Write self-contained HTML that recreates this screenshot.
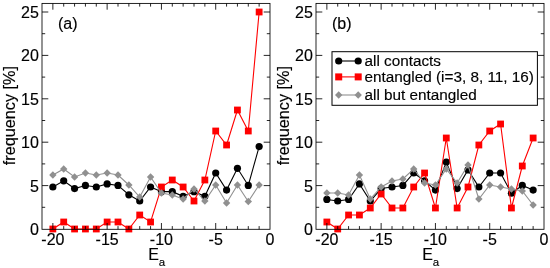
<!DOCTYPE html>
<html><head><meta charset="utf-8"><style>html,body{margin:0;padding:0;background:#fff;}svg{display:block;}</style></head>
<body>
<svg width="550" height="268" viewBox="0 0 550 268" font-family="Liberation Sans, Arial, sans-serif" font-size="16"><style>text{stroke:#000;stroke-width:0.15px}</style>
<rect width="550" height="268" fill="#fff"/>
<polyline fill="none" stroke="#000" stroke-width="1.1" points="52.86,187 63.71,180.78 74.57,188.56 85.43,185.44 96.29,187 107.14,183.89 118,185.44 128.86,194.78 139.71,201 150.57,187 161.43,191.67 172.29,191.67 183.14,196.33 194,191.67 204.86,196.33 215.71,173 226.57,190.11 237.43,168.33 248.29,185.44 259.14,146.56"/>
<circle cx="52.86" cy="187" r="3.6" fill="#000"/>
<circle cx="63.71" cy="180.78" r="3.6" fill="#000"/>
<circle cx="74.57" cy="188.56" r="3.6" fill="#000"/>
<circle cx="85.43" cy="185.44" r="3.6" fill="#000"/>
<circle cx="96.29" cy="187" r="3.6" fill="#000"/>
<circle cx="107.14" cy="183.89" r="3.6" fill="#000"/>
<circle cx="118" cy="185.44" r="3.6" fill="#000"/>
<circle cx="128.86" cy="194.78" r="3.6" fill="#000"/>
<circle cx="139.71" cy="201" r="3.6" fill="#000"/>
<circle cx="150.57" cy="187" r="3.6" fill="#000"/>
<circle cx="161.43" cy="191.67" r="3.6" fill="#000"/>
<circle cx="172.29" cy="191.67" r="3.6" fill="#000"/>
<circle cx="183.14" cy="196.33" r="3.6" fill="#000"/>
<circle cx="194" cy="191.67" r="3.6" fill="#000"/>
<circle cx="204.86" cy="196.33" r="3.6" fill="#000"/>
<circle cx="215.71" cy="173" r="3.6" fill="#000"/>
<circle cx="226.57" cy="190.11" r="3.6" fill="#000"/>
<circle cx="237.43" cy="168.33" r="3.6" fill="#000"/>
<circle cx="248.29" cy="185.44" r="3.6" fill="#000"/>
<circle cx="259.14" cy="146.56" r="3.6" fill="#000"/>
<polyline fill="none" stroke="#f00" stroke-width="1.1" points="52.86,229 63.71,222 74.57,229 85.43,229 96.29,229 107.14,222 118,222 128.86,229 139.71,215 150.57,222 161.43,187 172.29,180 183.14,187 194,201 204.86,180 215.71,131 226.57,145 237.43,110 248.29,131 259.14,12"/>
<rect x="49.46" y="225.6" width="6.8" height="6.8" fill="#f00"/>
<rect x="60.31" y="218.6" width="6.8" height="6.8" fill="#f00"/>
<rect x="71.17" y="225.6" width="6.8" height="6.8" fill="#f00"/>
<rect x="82.03" y="225.6" width="6.8" height="6.8" fill="#f00"/>
<rect x="92.89" y="225.6" width="6.8" height="6.8" fill="#f00"/>
<rect x="103.74" y="218.6" width="6.8" height="6.8" fill="#f00"/>
<rect x="114.6" y="218.6" width="6.8" height="6.8" fill="#f00"/>
<rect x="125.46" y="225.6" width="6.8" height="6.8" fill="#f00"/>
<rect x="136.31" y="211.6" width="6.8" height="6.8" fill="#f00"/>
<rect x="147.17" y="218.6" width="6.8" height="6.8" fill="#f00"/>
<rect x="158.03" y="183.6" width="6.8" height="6.8" fill="#f00"/>
<rect x="168.89" y="176.6" width="6.8" height="6.8" fill="#f00"/>
<rect x="179.74" y="183.6" width="6.8" height="6.8" fill="#f00"/>
<rect x="190.6" y="197.6" width="6.8" height="6.8" fill="#f00"/>
<rect x="201.46" y="176.6" width="6.8" height="6.8" fill="#f00"/>
<rect x="212.31" y="127.6" width="6.8" height="6.8" fill="#f00"/>
<rect x="223.17" y="141.6" width="6.8" height="6.8" fill="#f00"/>
<rect x="234.03" y="106.6" width="6.8" height="6.8" fill="#f00"/>
<rect x="244.89" y="127.6" width="6.8" height="6.8" fill="#f00"/>
<rect x="255.74" y="8.6" width="6.8" height="6.8" fill="#f00"/>
<polyline fill="none" stroke="#909090" stroke-width="1.1" points="52.86,175 63.71,169 74.57,177 85.43,173 96.29,175 107.14,173 118,175 128.86,185 139.71,197 150.57,177 161.43,193 172.29,195 183.14,199 194,189 204.86,201 215.71,185 226.57,203 237.43,185 248.29,201.5 259.14,185"/>
<path d="M52.86 171.3l3.7 3.7l-3.7 3.7l-3.7 -3.7z" fill="#909090"/>
<path d="M63.71 165.3l3.7 3.7l-3.7 3.7l-3.7 -3.7z" fill="#909090"/>
<path d="M74.57 173.3l3.7 3.7l-3.7 3.7l-3.7 -3.7z" fill="#909090"/>
<path d="M85.43 169.3l3.7 3.7l-3.7 3.7l-3.7 -3.7z" fill="#909090"/>
<path d="M96.29 171.3l3.7 3.7l-3.7 3.7l-3.7 -3.7z" fill="#909090"/>
<path d="M107.14 169.3l3.7 3.7l-3.7 3.7l-3.7 -3.7z" fill="#909090"/>
<path d="M118 171.3l3.7 3.7l-3.7 3.7l-3.7 -3.7z" fill="#909090"/>
<path d="M128.86 181.3l3.7 3.7l-3.7 3.7l-3.7 -3.7z" fill="#909090"/>
<path d="M139.71 193.3l3.7 3.7l-3.7 3.7l-3.7 -3.7z" fill="#909090"/>
<path d="M150.57 173.3l3.7 3.7l-3.7 3.7l-3.7 -3.7z" fill="#909090"/>
<path d="M161.43 189.3l3.7 3.7l-3.7 3.7l-3.7 -3.7z" fill="#909090"/>
<path d="M172.29 191.3l3.7 3.7l-3.7 3.7l-3.7 -3.7z" fill="#909090"/>
<path d="M183.14 195.3l3.7 3.7l-3.7 3.7l-3.7 -3.7z" fill="#909090"/>
<path d="M194 185.3l3.7 3.7l-3.7 3.7l-3.7 -3.7z" fill="#909090"/>
<path d="M204.86 197.3l3.7 3.7l-3.7 3.7l-3.7 -3.7z" fill="#909090"/>
<path d="M215.71 181.3l3.7 3.7l-3.7 3.7l-3.7 -3.7z" fill="#909090"/>
<path d="M226.57 199.3l3.7 3.7l-3.7 3.7l-3.7 -3.7z" fill="#909090"/>
<path d="M237.43 181.3l3.7 3.7l-3.7 3.7l-3.7 -3.7z" fill="#909090"/>
<path d="M248.29 197.8l3.7 3.7l-3.7 3.7l-3.7 -3.7z" fill="#909090"/>
<path d="M259.14 181.3l3.7 3.7l-3.7 3.7l-3.7 -3.7z" fill="#909090"/>
<rect x="42" y="3.4" width="228" height="225.9" fill="none" stroke="#000" stroke-width="0.85"/>
<path d="M52.86 229.3v-6.3M52.86 3.4v6.3M63.71 229.3v-3.2M63.71 3.4v3.2M74.57 229.3v-3.2M74.57 3.4v3.2M85.43 229.3v-3.2M85.43 3.4v3.2M96.29 229.3v-3.2M96.29 3.4v3.2M107.14 229.3v-6.3M107.14 3.4v6.3M118 229.3v-3.2M118 3.4v3.2M128.86 229.3v-3.2M128.86 3.4v3.2M139.71 229.3v-3.2M139.71 3.4v3.2M150.57 229.3v-3.2M150.57 3.4v3.2M161.43 229.3v-6.3M161.43 3.4v6.3M172.29 229.3v-3.2M172.29 3.4v3.2M183.14 229.3v-3.2M183.14 3.4v3.2M194 229.3v-3.2M194 3.4v3.2M204.86 229.3v-3.2M204.86 3.4v3.2M215.71 229.3v-6.3M215.71 3.4v6.3M226.57 229.3v-3.2M226.57 3.4v3.2M237.43 229.3v-3.2M237.43 3.4v3.2M248.29 229.3v-3.2M248.29 3.4v3.2M259.14 229.3v-3.2M259.14 3.4v3.2M42 207.3h3.2M270 207.3h-3.2M42 185.6h6.3M270 185.6h-6.3M42 163.9h3.2M270 163.9h-3.2M42 142.2h6.3M270 142.2h-6.3M42 120.5h3.2M270 120.5h-3.2M42 98.8h6.3M270 98.8h-6.3M42 77.1h3.2M270 77.1h-3.2M42 55.4h6.3M270 55.4h-6.3M42 33.7h3.2M270 33.7h-3.2M42 12h6.3M270 12h-6.3" stroke="#000" stroke-width="0.85" fill="none"/>
<text x="38.9" y="229.5" text-anchor="end" dominant-baseline="central">0</text>
<text x="38.9" y="186.1" text-anchor="end" dominant-baseline="central">5</text>
<text x="38.9" y="142.7" text-anchor="end" dominant-baseline="central">10</text>
<text x="38.9" y="99.3" text-anchor="end" dominant-baseline="central">15</text>
<text x="38.9" y="55.9" text-anchor="end" dominant-baseline="central">20</text>
<text x="38.9" y="12.5" text-anchor="end" dominant-baseline="central">25</text>
<text x="52.86" y="244.7" text-anchor="middle">-20</text>
<text x="107.14" y="244.7" text-anchor="middle">-15</text>
<text x="161.43" y="244.7" text-anchor="middle">-10</text>
<text x="215.71" y="244.7" text-anchor="middle">-5</text>
<text x="270" y="244.7" text-anchor="middle">0</text>
<text x="156.7" y="259.9" text-anchor="middle">E<tspan font-size="11.5" dy="5.6">a</tspan></text>
<text transform="translate(14.7,115.6) rotate(-90)" text-anchor="middle" font-size="16.25">frequency [%]</text>
<text x="58" y="29.4">(a)</text>
<polyline fill="none" stroke="#000" stroke-width="1.1" points="326.86,199.44 337.71,201 348.57,199.44 359.43,183.89 370.29,201 381.14,188.56 392,187 402.86,185.44 413.71,173 424.57,180.78 435.43,190.11 446.29,162.11 457.14,188.56 468,169.89 478.86,187 489.71,173 500.57,173 511.43,193.22 522.29,185.44 533.14,190.11"/>
<circle cx="326.86" cy="199.44" r="3.6" fill="#000"/>
<circle cx="337.71" cy="201" r="3.6" fill="#000"/>
<circle cx="348.57" cy="199.44" r="3.6" fill="#000"/>
<circle cx="359.43" cy="183.89" r="3.6" fill="#000"/>
<circle cx="370.29" cy="201" r="3.6" fill="#000"/>
<circle cx="381.14" cy="188.56" r="3.6" fill="#000"/>
<circle cx="392" cy="187" r="3.6" fill="#000"/>
<circle cx="402.86" cy="185.44" r="3.6" fill="#000"/>
<circle cx="413.71" cy="173" r="3.6" fill="#000"/>
<circle cx="424.57" cy="180.78" r="3.6" fill="#000"/>
<circle cx="435.43" cy="190.11" r="3.6" fill="#000"/>
<circle cx="446.29" cy="162.11" r="3.6" fill="#000"/>
<circle cx="457.14" cy="188.56" r="3.6" fill="#000"/>
<circle cx="468" cy="169.89" r="3.6" fill="#000"/>
<circle cx="478.86" cy="187" r="3.6" fill="#000"/>
<circle cx="489.71" cy="173" r="3.6" fill="#000"/>
<circle cx="500.57" cy="173" r="3.6" fill="#000"/>
<circle cx="511.43" cy="193.22" r="3.6" fill="#000"/>
<circle cx="522.29" cy="185.44" r="3.6" fill="#000"/>
<circle cx="533.14" cy="190.11" r="3.6" fill="#000"/>
<polyline fill="none" stroke="#f00" stroke-width="1.1" points="326.86,222 337.71,229 348.57,215 359.43,215 370.29,208 381.14,194 392,208 402.86,208 413.71,187 424.57,173 435.43,208 446.29,138 457.14,208 468,187 478.86,145 489.71,131 500.57,124 511.43,208 522.29,166 533.14,138"/>
<rect x="323.46" y="218.6" width="6.8" height="6.8" fill="#f00"/>
<rect x="334.31" y="225.6" width="6.8" height="6.8" fill="#f00"/>
<rect x="345.17" y="211.6" width="6.8" height="6.8" fill="#f00"/>
<rect x="356.03" y="211.6" width="6.8" height="6.8" fill="#f00"/>
<rect x="366.89" y="204.6" width="6.8" height="6.8" fill="#f00"/>
<rect x="377.74" y="190.6" width="6.8" height="6.8" fill="#f00"/>
<rect x="388.6" y="204.6" width="6.8" height="6.8" fill="#f00"/>
<rect x="399.46" y="204.6" width="6.8" height="6.8" fill="#f00"/>
<rect x="410.31" y="183.6" width="6.8" height="6.8" fill="#f00"/>
<rect x="421.17" y="169.6" width="6.8" height="6.8" fill="#f00"/>
<rect x="432.03" y="204.6" width="6.8" height="6.8" fill="#f00"/>
<rect x="442.89" y="134.6" width="6.8" height="6.8" fill="#f00"/>
<rect x="453.74" y="204.6" width="6.8" height="6.8" fill="#f00"/>
<rect x="464.6" y="183.6" width="6.8" height="6.8" fill="#f00"/>
<rect x="475.46" y="141.6" width="6.8" height="6.8" fill="#f00"/>
<rect x="486.31" y="127.6" width="6.8" height="6.8" fill="#f00"/>
<rect x="497.17" y="120.6" width="6.8" height="6.8" fill="#f00"/>
<rect x="508.03" y="204.6" width="6.8" height="6.8" fill="#f00"/>
<rect x="518.89" y="162.6" width="6.8" height="6.8" fill="#f00"/>
<rect x="529.74" y="134.6" width="6.8" height="6.8" fill="#f00"/>
<polyline fill="none" stroke="#909090" stroke-width="1.1" points="326.86,193 337.71,193 348.57,195 359.43,175 370.29,199 381.14,187 392,181 402.86,179 413.71,169 424.57,183 435.43,185 446.29,169 457.14,183 468,165 478.86,199 489.71,185 500.57,187 511.43,189 522.29,191 533.14,205"/>
<path d="M326.86 189.3l3.7 3.7l-3.7 3.7l-3.7 -3.7z" fill="#909090"/>
<path d="M337.71 189.3l3.7 3.7l-3.7 3.7l-3.7 -3.7z" fill="#909090"/>
<path d="M348.57 191.3l3.7 3.7l-3.7 3.7l-3.7 -3.7z" fill="#909090"/>
<path d="M359.43 171.3l3.7 3.7l-3.7 3.7l-3.7 -3.7z" fill="#909090"/>
<path d="M370.29 195.3l3.7 3.7l-3.7 3.7l-3.7 -3.7z" fill="#909090"/>
<path d="M381.14 183.3l3.7 3.7l-3.7 3.7l-3.7 -3.7z" fill="#909090"/>
<path d="M392 177.3l3.7 3.7l-3.7 3.7l-3.7 -3.7z" fill="#909090"/>
<path d="M402.86 175.3l3.7 3.7l-3.7 3.7l-3.7 -3.7z" fill="#909090"/>
<path d="M413.71 165.3l3.7 3.7l-3.7 3.7l-3.7 -3.7z" fill="#909090"/>
<path d="M424.57 179.3l3.7 3.7l-3.7 3.7l-3.7 -3.7z" fill="#909090"/>
<path d="M435.43 181.3l3.7 3.7l-3.7 3.7l-3.7 -3.7z" fill="#909090"/>
<path d="M446.29 165.3l3.7 3.7l-3.7 3.7l-3.7 -3.7z" fill="#909090"/>
<path d="M457.14 179.3l3.7 3.7l-3.7 3.7l-3.7 -3.7z" fill="#909090"/>
<path d="M468 161.3l3.7 3.7l-3.7 3.7l-3.7 -3.7z" fill="#909090"/>
<path d="M478.86 195.3l3.7 3.7l-3.7 3.7l-3.7 -3.7z" fill="#909090"/>
<path d="M489.71 181.3l3.7 3.7l-3.7 3.7l-3.7 -3.7z" fill="#909090"/>
<path d="M500.57 183.3l3.7 3.7l-3.7 3.7l-3.7 -3.7z" fill="#909090"/>
<path d="M511.43 185.3l3.7 3.7l-3.7 3.7l-3.7 -3.7z" fill="#909090"/>
<path d="M522.29 187.3l3.7 3.7l-3.7 3.7l-3.7 -3.7z" fill="#909090"/>
<path d="M533.14 201.3l3.7 3.7l-3.7 3.7l-3.7 -3.7z" fill="#909090"/>
<rect x="316" y="3.4" width="228" height="225.9" fill="none" stroke="#000" stroke-width="0.85"/>
<path d="M326.86 229.3v-6.3M326.86 3.4v6.3M337.71 229.3v-3.2M337.71 3.4v3.2M348.57 229.3v-3.2M348.57 3.4v3.2M359.43 229.3v-3.2M359.43 3.4v3.2M370.29 229.3v-3.2M370.29 3.4v3.2M381.14 229.3v-6.3M381.14 3.4v6.3M392 229.3v-3.2M392 3.4v3.2M402.86 229.3v-3.2M402.86 3.4v3.2M413.71 229.3v-3.2M413.71 3.4v3.2M424.57 229.3v-3.2M424.57 3.4v3.2M435.43 229.3v-6.3M435.43 3.4v6.3M446.29 229.3v-3.2M446.29 3.4v3.2M457.14 229.3v-3.2M457.14 3.4v3.2M468 229.3v-3.2M468 3.4v3.2M478.86 229.3v-3.2M478.86 3.4v3.2M489.71 229.3v-6.3M489.71 3.4v6.3M500.57 229.3v-3.2M500.57 3.4v3.2M511.43 229.3v-3.2M511.43 3.4v3.2M522.29 229.3v-3.2M522.29 3.4v3.2M533.14 229.3v-3.2M533.14 3.4v3.2M316 207.3h3.2M544 207.3h-3.2M316 185.6h6.3M544 185.6h-6.3M316 163.9h3.2M544 163.9h-3.2M316 142.2h6.3M544 142.2h-6.3M316 120.5h3.2M544 120.5h-3.2M316 98.8h6.3M544 98.8h-6.3M316 77.1h3.2M544 77.1h-3.2M316 55.4h6.3M544 55.4h-6.3M316 33.7h3.2M544 33.7h-3.2M316 12h6.3M544 12h-6.3" stroke="#000" stroke-width="0.85" fill="none"/>
<text x="312.9" y="229.5" text-anchor="end" dominant-baseline="central">0</text>
<text x="312.9" y="186.1" text-anchor="end" dominant-baseline="central">5</text>
<text x="312.9" y="142.7" text-anchor="end" dominant-baseline="central">10</text>
<text x="312.9" y="99.3" text-anchor="end" dominant-baseline="central">15</text>
<text x="312.9" y="55.9" text-anchor="end" dominant-baseline="central">20</text>
<text x="312.9" y="12.5" text-anchor="end" dominant-baseline="central">25</text>
<text x="326.86" y="244.7" text-anchor="middle">-20</text>
<text x="381.14" y="244.7" text-anchor="middle">-15</text>
<text x="435.43" y="244.7" text-anchor="middle">-10</text>
<text x="489.71" y="244.7" text-anchor="middle">-5</text>
<text x="544" y="244.7" text-anchor="middle">0</text>
<text x="430.7" y="259.9" text-anchor="middle">E<tspan font-size="11.5" dy="5.6">a</tspan></text>
<text transform="translate(288.7,115.6) rotate(-90)" text-anchor="middle" font-size="16.25">frequency [%]</text>
<text x="332" y="29.4">(b)</text>
<rect x="332" y="51.7" width="205.4" height="53.6" fill="#fff" stroke="#000" stroke-width="1"/>
<line x1="338.7" y1="61.0" x2="358.2" y2="61.0" stroke="#000" stroke-width="1.1"/>
<circle cx="338.7" cy="61.0" r="3.6" fill="#000"/>
<circle cx="358.2" cy="61.0" r="3.6" fill="#000"/>
<text x="364.5" y="65.9" font-size="15.3">all contacts</text>
<line x1="338.7" y1="76.9" x2="358.2" y2="76.9" stroke="#f00" stroke-width="1.1"/>
<rect x="335.2" y="73.4" width="7" height="7" fill="#f00"/>
<rect x="354.7" y="73.4" width="7" height="7" fill="#f00"/>
<text x="364.5" y="81.8" font-size="15.3">entangled (i=3, 8, 11, 16)</text>
<line x1="338.7" y1="95.0" x2="358.2" y2="95.0" stroke="#909090" stroke-width="1.1"/>
<path d="M338.7 91.3l3.7 3.7l-3.7 3.7l-3.7 -3.7z" fill="#909090"/>
<path d="M358.2 91.3l3.7 3.7l-3.7 3.7l-3.7 -3.7z" fill="#909090"/>
<text x="364.5" y="99.9" font-size="15.3">all but entangled</text>
</svg>
</body></html>
